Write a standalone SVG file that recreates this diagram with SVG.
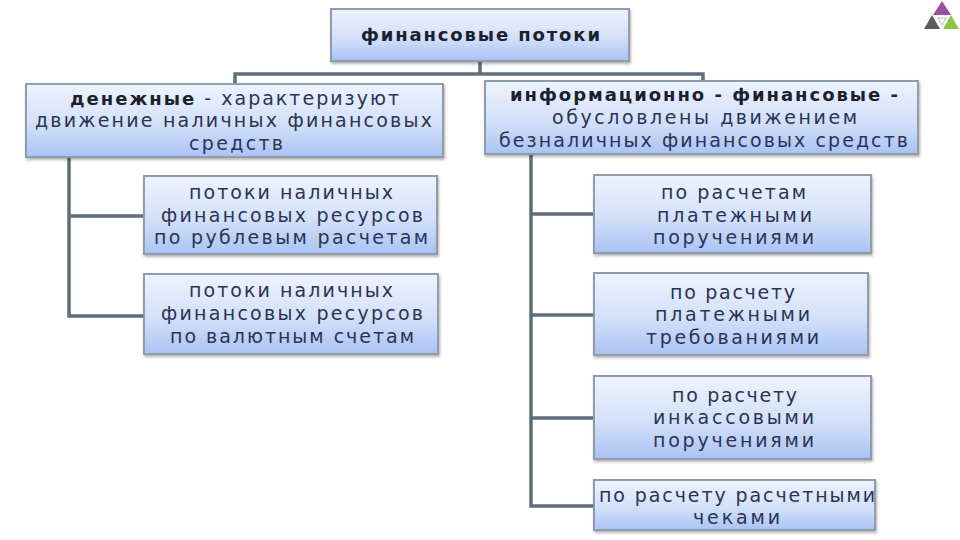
<svg xmlns="http://www.w3.org/2000/svg" width="960" height="540" viewBox="0 0 960 540">
<style>
.box{fill:url(#g);stroke:#8f9cab;stroke-width:2;filter:url(#s)}
.c{fill:none;stroke:#5d6f7c;stroke-width:3.5}
text{font-family:"DejaVu Sans","Liberation Sans",sans-serif;font-size:19px;fill:#2b3454}
.b{font-weight:bold;font-size:18px;fill:#1c1f2c}
</style>
<defs>
<linearGradient id="g" x1="0" y1="0" x2="0" y2="1"><stop offset="0" stop-color="#eef3fd"/><stop offset=".55" stop-color="#d3e0f9"/><stop offset="1" stop-color="#a9c3f4"/></linearGradient>
<filter id="s" x="-5%" y="-10%" width="110%" height="125%"><feDropShadow dx="1" dy="2" stdDeviation="1.5" flood-color="#000" flood-opacity=".3"/></filter>
</defs>
<rect width="960" height="540" fill="#fff"/>
<g id="connectors">
<path class="c" d="M480 61V74M235 84V74H703V81"/>
<path class="c" d="M69 157V316H144M69 216H144"/>
<path class="c" d="M531 154V506H594M531 214H594M531 315H594M531 418H594"/>
</g>
<g id="n-root"><rect class="box" x="331" y="9" width="298" height="52"/><text class="b" x="361" y="41" textLength="239">финансовые потоки</text></g>
<g id="n-cash"><rect class="box" x="26" y="84" width="417" height="73"/>
<text x="70" y="105" textLength="329"><tspan class="b">денежные</tspan> - характеризуют</text>
<text x="35" y="127" textLength="397">движение наличных финансовых</text>
<text x="189" y="150" textLength="94">средств</text></g>
<g id="n-info"><rect class="box" x="485" y="81" width="433" height="73"/>
<text class="b" x="510" y="101" textLength="388">информационно - финансовые -</text>
<text x="552" y="124" textLength="305">обусловлены движением</text>
<text x="499" y="147" textLength="409">безналичных финансовых средств</text></g>
<g id="n-l1"><rect class="box" x="144" y="176" width="293" height="78"/>
<text x="189" y="199" textLength="204">потоки наличных</text>
<text x="161" y="222" textLength="262">финансовых ресурсов</text>
<text x="154" y="244" textLength="274">по рублевым расчетам</text></g>
<g id="n-l2"><rect class="box" x="144" y="274" width="294" height="80"/>
<text x="189" y="297" textLength="204">потоки наличных</text>
<text x="161" y="320" textLength="262">финансовых ресурсов</text>
<text x="170" y="343" textLength="244">по валютным счетам</text></g>
<g id="n-r1"><rect class="box" x="594" y="175" width="277" height="78"/>
<text x="661" y="199" textLength="145">по расчетам</text>
<text x="657" y="222" textLength="155">платежными</text>
<text x="653" y="244" textLength="161">поручениями</text></g>
<g id="n-r2"><rect class="box" x="594" y="273" width="274" height="82"/>
<text x="670" y="299" textLength="125">по расчету</text>
<text x="655" y="321" textLength="155">платежными</text>
<text x="646" y="344" textLength="173">требованиями</text></g>
<g id="n-r3"><rect class="box" x="594" y="376" width="277" height="83"/>
<text x="672" y="402" textLength="125">по расчету</text>
<text x="653" y="424" textLength="161">инкассовыми</text>
<text x="653" y="447" textLength="161">поручениями</text></g>
<g id="n-r4"><rect class="box" x="594" y="480" width="281" height="50"/>
<text x="599" y="502" textLength="276">по расчету расчетными</text>
<text x="693" y="524" textLength="87">чеками</text></g>
<g id="logo">
<polygon points="942,1 951,15 933,15" fill="#9c4f9e"/>
<polygon points="932,15 940,29 924,29" fill="#5c5c5e"/>
<polygon points="951,15 959,29 943,29" fill="#8dc640"/>
<polygon points="938,18 946,18 942,25" fill="#fff" stroke="#8aa" stroke-width=".7"/>
</g>
</svg>
